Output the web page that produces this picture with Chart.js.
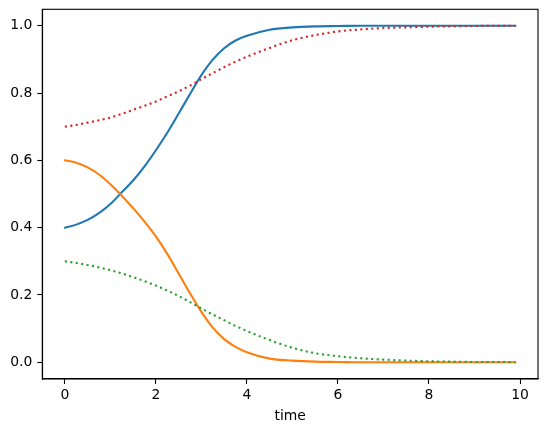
<!DOCTYPE html>
<html>
<head>
<meta charset="utf-8">
<script src="https://cdn.jsdelivr.net/npm/chart.js@4"></script>
<style>
  html, body { margin: 0; padding: 0; background: #ffffff; }
  #wrap { width: 547px; height: 432px; }
</style>
</head>
<body>
<div id="wrap"><canvas id="timeChart" width="547" height="432"></canvas></div>
<script>
const timeValues = [0, 0.25, 0.5, 0.75, 1, 1.25, 1.5, 1.75, 2, 2.25, 2.5, 2.75, 3, 3.25, 3.5, 3.75, 4, 4.5, 5, 5.5, 6, 6.5, 7, 7.5, 8, 8.5, 9, 9.5, 9.9];
const blueValues = [0.400, 0.409, 0.423, 0.443, 0.470, 0.505, 0.540, 0.582, 0.630, 0.682, 0.739, 0.797, 0.853, 0.899, 0.933, 0.956, 0.970, 0.988, 0.995, 0.998, 0.999, 1.0, 1.0, 1.0, 1.0, 1.0, 1.0, 1.0, 1.0];
const orangeValues = [0.600, 0.593, 0.579, 0.558, 0.529, 0.495, 0.458, 0.418, 0.374, 0.322, 0.264, 0.205, 0.150, 0.103, 0.069, 0.046, 0.030, 0.011, 0.005, 0.002, 0.001, 0.0, 0.0, 0.0, 0.0, 0.0, 0.0, 0.0, 0.0];
const greenValues = [0.300, 0.295, 0.289, 0.282, 0.274, 0.264, 0.253, 0.241, 0.228, 0.213, 0.197, 0.179, 0.160, 0.142, 0.125, 0.108, 0.093, 0.066, 0.043, 0.027, 0.018, 0.012, 0.008, 0.005, 0.003, 0.002, 0.001, 0.001, 0.0];
const redValues = [0.700, 0.705, 0.712, 0.719, 0.727, 0.738, 0.750, 0.762, 0.775, 0.790, 0.805, 0.822, 0.841, 0.859, 0.877, 0.893, 0.908, 0.934, 0.957, 0.972, 0.983, 0.989, 0.993, 0.995, 0.997, 0.998, 0.999, 1.0, 1.0];
const xTicks = [0, 2, 4, 6, 8, 10];
const yTicks = [0, 0.2, 0.4, 0.6, 0.8, 1.0];

const tickFont = { family: "DejaVu Sans", size: 13.9 };

// Trasforma un array di valori in punti {x, y}
function toPoints(values) {
  return timeValues.map((t, i) => ({ x: t, y: values[i] }));
}

function makeLine(values, color, dotted, order) {
  return {
    data: toPoints(values),
    borderColor: color,
    borderWidth: 2.1,
    borderDash: dotted ? [2.1, 3.4] : [],
    borderCapStyle: dotted ? "butt" : "round",
    pointRadius: 0,
    fill: false,
    cubicInterpolationMode: "monotone",
    order: order,
  };
}

// Disegna il riquadro completo attorno all'area del grafico
const frameBox = {
  id: "frameBox",
  afterDatasetsDraw(chart) {
    const { ctx, chartArea } = chart;
    ctx.save();
    ctx.strokeStyle = "#000000";
    ctx.lineWidth = 1.1;
    ctx.strokeRect(chartArea.left, chartArea.top, chartArea.right - chartArea.left, chartArea.bottom - chartArea.top);
    ctx.restore();
  },
};

const ctx = document.getElementById("timeChart").getContext("2d");

new Chart(ctx, {
  type: "line",
  data: {
    datasets: [
      makeLine(blueValues, "#1f77b4", false, 4),
      makeLine(orangeValues, "#ff7f0e", false, 3),
      makeLine(greenValues, "#2ca02c", true, 2),
      makeLine(redValues, "#d62728", true, 1),
    ],
  },
  options: {
    responsive: false,
    animation: false,
    layout: { padding: { top: 9.3, right: 9, left: 0, bottom: 0 } },
    plugins: {
      legend: { display: false },
      tooltip: { enabled: false },
    },
    scales: {
      x: {
        type: "linear",
        min: -0.495,
        max: 10.395,
        afterBuildTicks: (scale) => {
          scale.ticks = xTicks.map((v) => ({ value: v }));
        },
        afterFit: (scale) => {
          scale.height = 53;
          scale.paddingLeft = 0;
          scale.paddingRight = 0;
        },
        grid: {
          display: true,
          drawOnChartArea: false,
          drawTicks: true,
          tickLength: 5,
          tickWidth: 1.1,
          tickColor: "#000000",
        },
        border: { display: true, color: "#000000", width: 1.1 },
        ticks: {
          color: "#000000",
          font: tickFont,
          padding: 3,
          maxRotation: 0,
          callback: (v) => String(v),
        },
        title: {
          display: true,
          text: "time",
          color: "#000000",
          font: tickFont,
          padding: { top: 0, bottom: 7 },
        },
      },
      y: {
        type: "linear",
        min: -0.0496,
        max: 1.0487,
        afterBuildTicks: (scale) => {
          scale.ticks = yTicks.map((v) => ({ value: v }));
        },
        afterFit: (scale) => {
          scale.width = 42.3;
          scale.paddingTop = 0;
          scale.paddingBottom = 0;
        },
        grid: {
          display: true,
          drawOnChartArea: false,
          drawTicks: true,
          tickLength: 5,
          tickWidth: 1.1,
          tickColor: "#000000",
        },
        border: { display: true, color: "#000000", width: 1.1 },
        ticks: {
          color: "#000000",
          font: tickFont,
          padding: 5,
          callback: (v) => v.toFixed(1),
        },
      },
    },
  },
  plugins: [frameBox],
});
</script>
</body>
</html>
